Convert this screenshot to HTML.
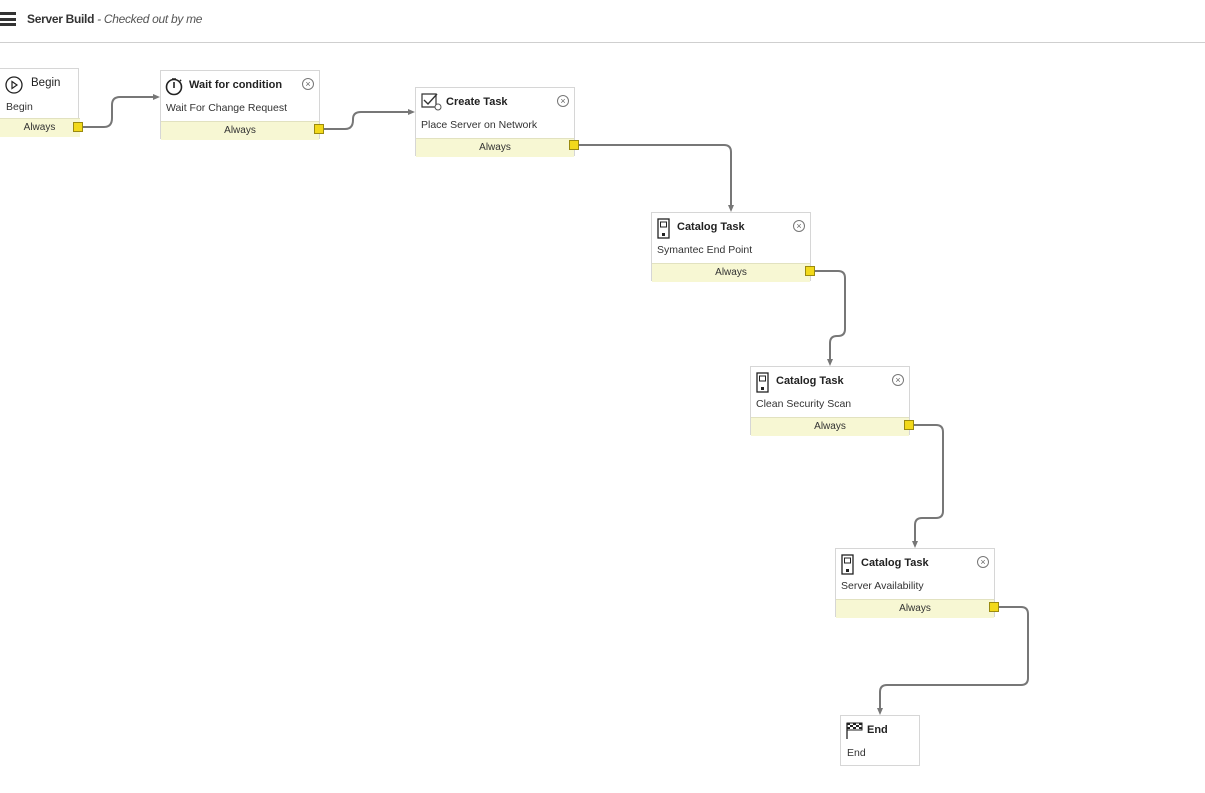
<!DOCTYPE html>
<html><head><meta charset="utf-8">
<style>
html,body{margin:0;padding:0;width:1205px;height:793px;background:#fff;overflow:hidden;font-family:"Liberation Sans",Arial,sans-serif;}
.hdr{position:absolute;left:0;top:0;width:1205px;height:42px;border-bottom:1px solid #cfcfcf;}
.menu{position:absolute;left:0;top:12px;width:16px;height:14px;}
.menu i{display:block;height:3px;background:#333;margin-bottom:2.5px;}
.title{position:absolute;left:27px;top:12px;font-size:12px;letter-spacing:-0.3px;color:#333;}
.title b{font-weight:bold;}
.title em{color:#555;}
.node{position:absolute;background:#fff;border:1px solid #d6d6d6;box-sizing:border-box;}
.nt{position:absolute;left:28px;top:8px;font-size:11px;font-weight:bold;color:#222;}
.ns{position:absolute;left:5px;top:31px;font-size:10.5px;color:#333;}
.ft{position:absolute;background:#f7f7d3;border-top:1px solid #e2e2c0;box-sizing:border-box;font-size:10px;color:#333;text-align:center;line-height:18px;height:19px;}
.sq{position:absolute;width:8px;height:8px;background:#f2d91b;border:1px solid #9a8a10;}
.x{position:absolute;right:5px;top:7px;width:10px;height:10px;border:1px solid #777;border-radius:50%;font-size:9px;line-height:10px;text-align:center;color:#666;}
.ic{position:absolute;left:5px;top:6px;}
</style></head><body>
<div class="hdr"><div class="menu"><i></i><i></i><i></i></div>
<div class="title"><b>Server Build</b> <em>- Checked out by me</em></div></div>

<svg width="1205" height="793" style="position:absolute;left:0;top:0" fill="none" stroke="#777" stroke-width="2">
<path d="M82 127 H104 Q112 127 112 118 V105 Q112 97 120 97 H156"/>
<path d="M323 129 H345 Q353 129 353 120 V119 Q353 112 361 112 H411"/>
<path d="M578 145 H724 Q731 145 731 152 V208"/>
<path d="M814 271 H838 Q845 271 845 278 V329 Q845 336 838 336 H837 Q830 336 830 343 V362"/>
<path d="M913 425 H936 Q943 425 943 432 V511 Q943 518 936 518 H922 Q915 518 915 525 V544"/>
<path d="M998 607 H1021 Q1028 607 1028 614 V678 Q1028 685 1021 685 H887 Q880 685 880 692 V711"/>
<g fill="#777" stroke="none">
<path d="M160 97 L153 94 L153 100Z"/><path d="M415 112 L408 109 L408 115Z"/>
<path d="M731 212 L728 205 L734 205Z"/><path d="M830 366 L827 359 L833 359Z"/>
<path d="M915 548 L912 541 L918 541Z"/><path d="M880 715 L877 708 L883 708Z"/>
</g></svg>

<!-- Begin -->
<div class="node" style="left:-2px;top:68px;width:81px;height:69px;">
<svg class="ic" width="18" height="18" style="left:6px;top:7px"><circle cx="9" cy="9" r="8" fill="none" stroke="#222" stroke-width="1.3"/><path d="M7 5.5 L12 9 L7 12.5Z" fill="none" stroke="#222" stroke-width="1.2"/></svg>
<div class="nt" style="left:32px;font-weight:normal;font-size:11.5px">Begin</div>
<div class="ns" style="left:7px;top:32px">Begin</div>
<div class="ft" style="left:0;top:49px;width:81px;">Always</div>
</div>
<div class="sq" style="left:73px;top:122px"></div>

<!-- Wait -->
<div class="node" style="left:160px;top:70px;width:160px;height:69px;">
<svg class="ic" width="20" height="20" style="left:4px;top:5px"><circle cx="9" cy="11" r="7.5" fill="none" stroke="#222" stroke-width="1.6"/><path d="M9 6 V12 M7 3 H11 M15 4 L16 5" stroke="#222" stroke-width="1.6"/></svg>
<div class="nt">Wait for condition</div><div class="x">×</div>
<div class="ns">Wait For Change Request</div>
<div class="ft" style="left:0;top:50px;width:158px;">Always</div>
</div>
<div class="sq" style="left:314px;top:124px"></div>

<!-- Create -->
<div class="node" style="left:415px;top:87px;width:160px;height:69px;">
<svg class="ic" width="22" height="20" style="left:5px;top:4px"><path d="M1 2 H15 V15 H1Z" fill="none" stroke="#333" stroke-width="1.2"/><path d="M3 8 L7 12 L16 2" fill="none" stroke="#333" stroke-width="1.4"/><circle cx="17" cy="15" r="3" fill="#fff" stroke="#555"/></svg>
<div class="nt" style="left:30px">Create Task</div><div class="x">×</div>
<div class="ns">Place Server on Network</div>
<div class="ft" style="left:0;top:50px;width:158px;">Always</div>
</div>
<div class="sq" style="left:569px;top:140px"></div>

<!-- shared catalog icon -->
<svg width="0" height="0" style="position:absolute"><defs><symbol id="cat" viewBox="0 0 14 22"><rect x="1" y="1" width="11" height="19" fill="none" stroke="#222" stroke-width="1.3"/><rect x="3.5" y="4" width="6" height="5" fill="none" stroke="#222"/><rect x="5" y="15" width="3" height="3" fill="#222"/></symbol></defs></svg>

<!-- Catalog nodes -->
<div class="node" style="left:651px;top:212px;width:160px;height:69px;">
<svg class="ic" width="14" height="22" style="left:5px;top:5px"><use href="#cat"/></svg>
<div class="nt" style="left:25px">Catalog Task</div><div class="x">×</div>
<div class="ns">Symantec End Point</div>
<div class="ft" style="left:0;top:50px;width:158px;">Always</div>
</div>
<div class="sq" style="left:805px;top:266px"></div>

<div class="node" style="left:750px;top:366px;width:160px;height:69px;">
<svg class="ic" width="14" height="22" style="left:5px;top:5px"><use href="#cat"/></svg>
<div class="nt" style="left:25px">Catalog Task</div><div class="x">×</div>
<div class="ns">Clean Security Scan</div>
<div class="ft" style="left:0;top:50px;width:158px;">Always</div>
</div>
<div class="sq" style="left:904px;top:420px"></div>

<div class="node" style="left:835px;top:548px;width:160px;height:69px;">
<svg class="ic" width="14" height="22" style="left:5px;top:5px"><use href="#cat"/></svg>
<div class="nt" style="left:25px">Catalog Task</div><div class="x">×</div>
<div class="ns">Server Availability</div>
<div class="ft" style="left:0;top:50px;width:158px;">Always</div>
</div>
<div class="sq" style="left:989px;top:602px"></div>

<!-- End -->
<div class="node" style="left:840px;top:715px;width:80px;height:51px;">
<svg class="ic" width="18" height="18" style="left:5px;top:6px"><rect x="1" y="1" width="15" height="7" fill="#fff" stroke="#222"/><path d="M1 1h3v2H1zM7 1h3v2H7zM13 1h3v2h-3zM4 3h3v2H4zM10 3h3v2h-3zM1 5h3v2H1zM7 5h3v2H7zM13 5h3v2h-3z" fill="#222"/><path d="M1 1 V17" stroke="#222" stroke-width="1.3"/></svg>
<div class="nt" style="left:26px;font-size:11px">End</div>
<div class="ns" style="left:6px">End</div>
</div>
</body></html>
